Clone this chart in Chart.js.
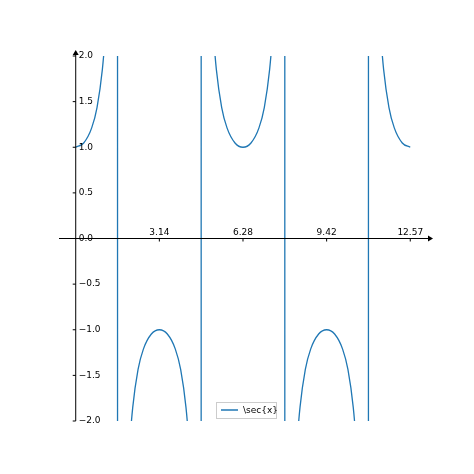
<!DOCTYPE html>
<html>
<head>
<script src="https://cdn.jsdelivr.net/npm/chart.js@4"></script>
<style>html,body{margin:0;padding:0;background:#fff}#c{width:474px;height:474px}</style>
</head>
<body>
<div id="c"><canvas id="chart" width="474" height="474"></canvas></div>
<script>
// sampled sec(x), 0 .. 4*pi (values past the asymptotes are clipped by the axis range)
const xs = [
  0, 0.3, 0.6, 0.8, 1.0, 1.1, 1.2, 1.3, 1.4, 1.5, 1.56,
  1.5816, 1.6416, 1.7416, 1.8416, 1.9416, 2.0416, 2.1416, 2.3416, 2.5416, 2.8416, 3.1416,
  3.4416, 3.7416, 3.9416, 4.1416, 4.2416, 4.3416, 4.4416, 4.5416, 4.6416, 4.7016,
  4.7232, 4.7832, 4.8832, 4.9832, 5.0832, 5.1832, 5.2832, 5.4832, 5.6832, 5.9832, 6.2832,
  6.5832, 6.8832, 7.0832, 7.2832, 7.3832, 7.4832, 7.5832, 7.6832, 7.7832, 7.8432,
  7.8648, 7.9248, 8.0248, 8.1248, 8.2248, 8.3248, 8.4248, 8.6248, 8.8248, 9.1248, 9.4248,
  9.7248, 10.0248, 10.2248, 10.4248, 10.5248, 10.6248, 10.7248, 10.8248, 10.9248, 10.9848,
  11.0064, 11.0664, 11.1664, 11.2664, 11.3664, 11.4664, 11.5664, 11.7664, 11.9664, 12.2664, 12.5664
];
const ys = [
  1, 1.047, 1.212, 1.435, 1.851, 2.205, 2.760, 3.738, 5.883, 14.14, 92.6,
  -92.6, -14.14, -5.883, -3.738, -2.760, -2.205, -1.851, -1.435, -1.212, -1.047, -1,
  -1.047, -1.212, -1.435, -1.851, -2.205, -2.760, -3.738, -5.883, -14.14, -92.6,
  92.6, 14.14, 5.883, 3.738, 2.760, 2.205, 1.851, 1.435, 1.212, 1.047, 1,
  1.047, 1.212, 1.435, 1.851, 2.205, 2.760, 3.738, 5.883, 14.14, 92.6,
  -92.6, -14.14, -5.883, -3.738, -2.760, -2.205, -1.851, -1.435, -1.212, -1.047, -1,
  -1.047, -1.212, -1.435, -1.851, -2.205, -2.760, -3.738, -5.883, -14.14, -92.6,
  92.6, 14.14, 5.883, 3.738, 2.760, 2.205, 1.851, 1.435, 1.212, 1.047, 1
];
const xTicks = [3.1416, 6.2832, 9.4248, 12.5664];
const xTickLabels = ['3.14', '6.28', '9.42', '12.57'];
const yTicks = [-2, -1.5, -1, -0.5, 0, 0.5, 1, 1.5, 2];
const seriesLabel = '\\sec{x}';

const blue = '#1f77b4';
const font = '9px "DejaVu Sans"';

// draws matplotlib-style centered spines, tick labels and the legend
const axesPlugin = {
  id: 'axesPlugin',
  afterDraw(chart) {
    const ctx = chart.ctx;
    const sx = chart.scales.x, sy = chart.scales.y;
    const x0 = sx.getPixelForValue(0), y0 = sy.getPixelForValue(0);
    const a = chart.chartArea;
    ctx.save();
    ctx.strokeStyle = '#000';
    ctx.fillStyle = '#000';
    ctx.lineWidth = 1;
    ctx.beginPath();
    ctx.moveTo(a.left, y0); ctx.lineTo(a.right + 4, y0);
    ctx.moveTo(x0, a.bottom); ctx.lineTo(x0, a.top - 4);
    ctx.stroke();
    // arrows
    ctx.beginPath();
    ctx.moveTo(a.right + 6, y0); ctx.lineTo(a.right + 1, y0 - 3); ctx.lineTo(a.right + 1, y0 + 3); ctx.fill();
    ctx.beginPath();
    ctx.moveTo(x0, a.top - 6); ctx.lineTo(x0 - 3, a.top - 1); ctx.lineTo(x0 + 3, a.top - 1); ctx.fill();
    ctx.font = font;
    ctx.textAlign = 'center';
    ctx.textBaseline = 'bottom';
    xTicks.forEach((v, i) => {
      const px = sx.getPixelForValue(v);
      ctx.beginPath(); ctx.moveTo(px, y0); ctx.lineTo(px, y0 + 3); ctx.stroke();
      ctx.fillText(xTickLabels[i], px, y0 - 1);
    });
    ctx.textAlign = 'left';
    ctx.textBaseline = 'middle';
    yTicks.forEach(v => {
      const py = sy.getPixelForValue(v);
      ctx.beginPath(); ctx.moveTo(x0 - 3, py); ctx.lineTo(x0, py); ctx.stroke();
      ctx.fillText((v < 0 ? '\u2212' : '') + Math.abs(v).toFixed(1), x0 + 3, py);
    });
    // legend
    const lw = 60, lh = 16;
    const lx = (a.left + a.right) / 2 - lw / 2 + 3, ly = a.bottom - lh - 3;
    ctx.fillStyle = 'rgba(255,255,255,0.8)';
    ctx.strokeStyle = '#ccc';
    ctx.fillRect(lx, ly, lw, lh);
    ctx.strokeRect(lx + 0.5, ly + 0.5, lw, lh);
    ctx.strokeStyle = blue; ctx.lineWidth = 1.5;
    ctx.beginPath(); ctx.moveTo(lx + 5, ly + lh / 2); ctx.lineTo(lx + 22, ly + lh / 2); ctx.stroke();
    ctx.fillStyle = '#000';
    ctx.fillText(seriesLabel, lx + 27, ly + lh / 2 + 0.5);
    ctx.restore();
  }
};

new Chart(document.getElementById('chart'), {
  type: 'scatter',
  data: {
    datasets: [{
      label: seriesLabel,
      data: xs.map((x, i) => ({ x: x, y: ys[i] })),
      showLine: true,
      borderColor: blue,
      borderWidth: 1.3,
      pointRadius: 0,
      tension: 0.4,
      cubicInterpolationMode: 'monotone'
    }]
  },
  plugins: [axesPlugin],
  options: {
    responsive: false,
    animation: false,
    layout: { padding: { left: 59, right: 47, top: 56, bottom: 53 } },
    plugins: { legend: { display: false }, tooltip: { enabled: false } },
    scales: {
      x: { type: 'linear', min: -0.628, max: 13.195, display: false },
      y: { type: 'linear', min: -2, max: 2, display: false }
    }
  }
});
</script>
</body>
</html>
